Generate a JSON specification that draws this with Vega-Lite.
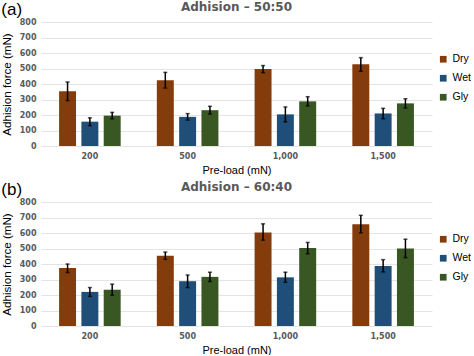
{
  "$schema": "https://vega.github.io/schema/vega-lite/v6.json",
  "padding": {"left": 1, "top": 1, "right": 0, "bottom": 0},
  "spacing": 6,
  "datasets": {
    "a": [
      {"load": "200", "cond": "Dry", "value": 353, "lo": 293, "hi": 413},
      {"load": "200", "cond": "Wet", "value": 157, "lo": 131, "hi": 182},
      {"load": "200", "cond": "Gly", "value": 196, "lo": 175, "hi": 217},
      {"load": "500", "cond": "Dry", "value": 425, "lo": 374, "hi": 475},
      {"load": "500", "cond": "Wet", "value": 188, "lo": 167, "hi": 209},
      {"load": "500", "cond": "Gly", "value": 231, "lo": 206, "hi": 256},
      {"load": "1,000", "cond": "Dry", "value": 496, "lo": 473, "hi": 519},
      {"load": "1,000", "cond": "Wet", "value": 204, "lo": 155, "hi": 252},
      {"load": "1,000", "cond": "Gly", "value": 288, "lo": 258, "hi": 318},
      {"load": "1,500", "cond": "Dry", "value": 527, "lo": 482, "hi": 570},
      {"load": "1,500", "cond": "Wet", "value": 210, "lo": 176, "hi": 243},
      {"load": "1,500", "cond": "Gly", "value": 275, "lo": 245, "hi": 305}
    ],
    "b": [
      {"load": "200", "cond": "Dry", "value": 374, "lo": 345, "hi": 400},
      {"load": "200", "cond": "Wet", "value": 220, "lo": 191, "hi": 248},
      {"load": "200", "cond": "Gly", "value": 234, "lo": 198, "hi": 270},
      {"load": "500", "cond": "Dry", "value": 453, "lo": 430, "hi": 477},
      {"load": "500", "cond": "Wet", "value": 289, "lo": 248, "hi": 329},
      {"load": "500", "cond": "Gly", "value": 317, "lo": 287, "hi": 347},
      {"load": "1,000", "cond": "Dry", "value": 603, "lo": 554, "hi": 659},
      {"load": "1,000", "cond": "Wet", "value": 314, "lo": 282, "hi": 347},
      {"load": "1,000", "cond": "Gly", "value": 503, "lo": 466, "hi": 539},
      {"load": "1,500", "cond": "Dry", "value": 657, "lo": 601, "hi": 714},
      {"load": "1,500", "cond": "Wet", "value": 387, "lo": 349, "hi": 428},
      {"load": "1,500", "cond": "Gly", "value": 500, "lo": 441, "hi": 560}
    ]
  },
  "config": {
    "view": {"stroke": null},
    "title": {"font": "DejaVu Sans", "fontSize": 12, "fontWeight": "bold", "color": "#595959", "offset": 4},
    "axis": {
      "labelFont": "DejaVu Sans", "labelFontSize": 8, "labelColor": "#595959", "labelFontWeight": "bold",
      "titleFont": "Liberation Sans", "titleFontSize": 11, "titleFontWeight": "normal", "titleColor": "#000000",
      "ticks": false, "gridColor": "#e4e4e4", "domain": false
    },
    "axisX": {"labelAngle": 0, "labelPadding": 6, "titlePadding": 4},
    "axisY": {"labelPadding": 5, "titlePadding": 7, "titleFontSize": 11.6, "labelOverlap": false},
    "legend": {
      "labelFont": "Liberation Sans", "labelFontSize": 10.5, "labelColor": "#000000", "labelOffset": 4,
      "symbolType": "square", "symbolSize": 45, "symbolStrokeWidth": 0, "rowPadding": 8,
      "orient": "none", "legendX": 397, "legendY": 32, "title": null
    }
  },
  "resolve": {"scale": {"color": "independent"}},
  "vconcat": [
    {
      "title": {"text": "(a)", "anchor": "start", "frame": "bounds", "font": "Liberation Sans", "fontSize": 17, "fontWeight": "normal", "color": "#000000", "offset": -18},
      "vconcat": [
        {
          "title": {"text": "Adhision – 50:50"},
          "width": 391, "height": 124,
          "data": {"name": "a"},
          "encoding": {
            "x": {"field": "load", "type": "nominal", "sort": ["200", "500", "1,000", "1,500"], "scale": {"paddingInner": 0.37, "paddingOuter": 0.185}, "axis": {"title": "Pre-load (mN)"}},
            "xOffset": {"field": "cond", "type": "nominal", "sort": ["Dry", "Wet", "Gly"], "scale": {"paddingInner": 0.24}}
          },
          "layer": [
            {"mark": {"type": "bar"}, "encoding": {
              "y": {"field": "value", "type": "quantitative", "scale": {"domain": [0, 800]}, "axis": {"title": "Adhision force (mN)", "tickCount": 8}},
              "color": {"field": "cond", "type": "nominal", "sort": ["Dry", "Wet", "Gly"], "scale": {"domain": ["Dry", "Wet", "Gly"], "range": ["#843C0C", "#1F4E79", "#385723"]}}
            }},
            {"mark": {"type": "rule", "color": "#000000", "strokeWidth": 1.5}, "encoding": {
              "y": {"field": "lo", "type": "quantitative", "axis": {"title": "Adhision force (mN)", "tickCount": 8}}, "y2": {"field": "hi"}
            }},
            {"mark": {"type": "tick", "color": "#000000", "size": 4, "thickness": 1.5, "orient": "horizontal"}, "encoding": {
              "y": {"field": "lo", "type": "quantitative", "axis": {"title": "Adhision force (mN)", "tickCount": 8}}
            }},
            {"mark": {"type": "tick", "color": "#000000", "size": 4, "thickness": 1.5, "orient": "horizontal"}, "encoding": {
              "y": {"field": "hi", "type": "quantitative", "axis": {"title": "Adhision force (mN)", "tickCount": 8}}
            }}
          ]
        }
      ]
    },
    {
      "title": {"text": "(b)", "anchor": "start", "frame": "bounds", "font": "Liberation Sans", "fontSize": 17, "fontWeight": "normal", "color": "#000000", "offset": -18},
      "vconcat": [
        {
          "title": {"text": "Adhision – 60:40"},
          "width": 391, "height": 124,
          "data": {"name": "b"},
          "encoding": {
            "x": {"field": "load", "type": "nominal", "sort": ["200", "500", "1,000", "1,500"], "scale": {"paddingInner": 0.37, "paddingOuter": 0.185}, "axis": {"title": "Pre-load (mN)"}},
            "xOffset": {"field": "cond", "type": "nominal", "sort": ["Dry", "Wet", "Gly"], "scale": {"paddingInner": 0.24}}
          },
          "layer": [
            {"mark": {"type": "bar"}, "encoding": {
              "y": {"field": "value", "type": "quantitative", "scale": {"domain": [0, 800]}, "axis": {"title": "Adhision force (mN)", "tickCount": 8}},
              "color": {"field": "cond", "type": "nominal", "sort": ["Dry", "Wet", "Gly"], "scale": {"domain": ["Dry", "Wet", "Gly"], "range": ["#843C0C", "#1F4E79", "#385723"]}}
            }},
            {"mark": {"type": "rule", "color": "#000000", "strokeWidth": 1.5}, "encoding": {
              "y": {"field": "lo", "type": "quantitative", "axis": {"title": "Adhision force (mN)", "tickCount": 8}}, "y2": {"field": "hi"}
            }},
            {"mark": {"type": "tick", "color": "#000000", "size": 4, "thickness": 1.5, "orient": "horizontal"}, "encoding": {
              "y": {"field": "lo", "type": "quantitative", "axis": {"title": "Adhision force (mN)", "tickCount": 8}}
            }},
            {"mark": {"type": "tick", "color": "#000000", "size": 4, "thickness": 1.5, "orient": "horizontal"}, "encoding": {
              "y": {"field": "hi", "type": "quantitative", "axis": {"title": "Adhision force (mN)", "tickCount": 8}}
            }}
          ]
        }
      ]
    }
  ]
}
